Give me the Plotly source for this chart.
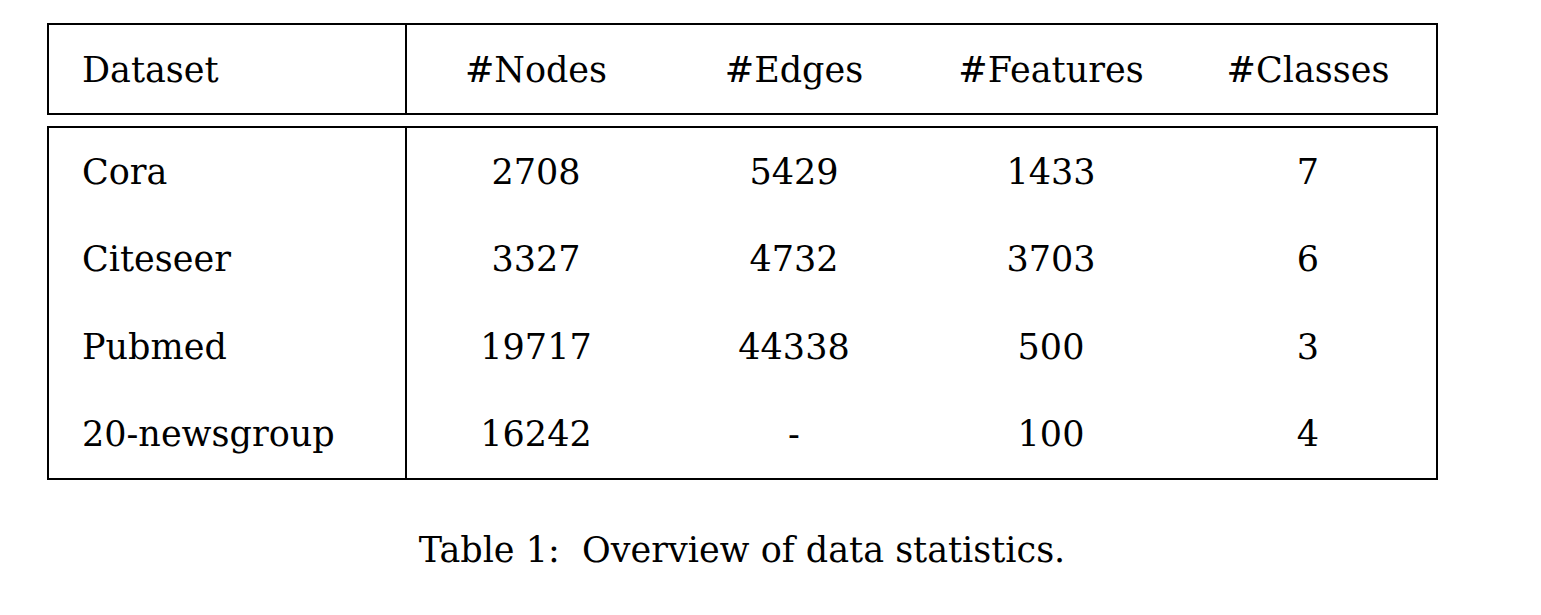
import plotly.graph_objects as go

# table data
HEADERS = ["Dataset", "#Nodes", "#Edges", "#Features", "#Classes"]
DATASETS = ["Cora", "Citeseer", "Pubmed", "20-newsgroup"]
NODES = ["2708", "3327", "19717", "16242"]
EDGES = ["5429", "4732", "44338", "-"]
FEATURES = ["1433", "3703", "500", "100"]
CLASSES = ["7", "6", "3", "4"]
CAPTION = "Table 1:  Overview of data statistics."

W, H = 1541, 615
FONT = "DejaVu Serif"
SIZE = 35

col_x = [82, 536, 794, 1051, 1308]
header_y = 73
row_y = [175, 262, 350, 437]

fig = go.Figure()

# header row
fig.add_trace(go.Scatter(
    x=col_x, y=[header_y] * len(HEADERS), text=HEADERS, mode="text",
    textposition=["middle right"] + ["middle center"] * 4,
    textfont=dict(family=FONT, size=SIZE, color="black"), hoverinfo="skip",
))

# body columns
columns = [DATASETS, NODES, EDGES, FEATURES, CLASSES]
for i, col in enumerate(columns):
    fig.add_trace(go.Scatter(
        x=[col_x[i]] * len(col), y=row_y, text=col, mode="text",
        textposition="middle right" if i == 0 else "middle center",
        textfont=dict(family=FONT, size=SIZE, color="black"), hoverinfo="skip",
    ))

# caption
fig.add_trace(go.Scatter(
    x=[742], y=[553], text=[CAPTION], mode="text",
    textfont=dict(family=FONT, size=SIZE, color="black"), hoverinfo="skip",
))

line = dict(color="black", width=2)
fig.add_shape(type="rect", x0=48, x1=1437, y0=24, y1=114, line=line)
fig.add_shape(type="rect", x0=48, x1=1437, y0=127, y1=479, line=line)
fig.add_shape(type="line", x0=406, x1=406, y0=24, y1=114, line=line)
fig.add_shape(type="line", x0=406, x1=406, y0=127, y1=479, line=line)

fig.update_layout(
    width=W, height=H, margin=dict(l=0, r=0, t=0, b=0),
    showlegend=False, plot_bgcolor="white", paper_bgcolor="white",
)
# page body adds an 8px offset; compensate so pixels line up
fig.update_xaxes(range=[8, W + 8], visible=False)
fig.update_yaxes(range=[H + 8, 8], visible=False)

fig.write_html("out.html")
